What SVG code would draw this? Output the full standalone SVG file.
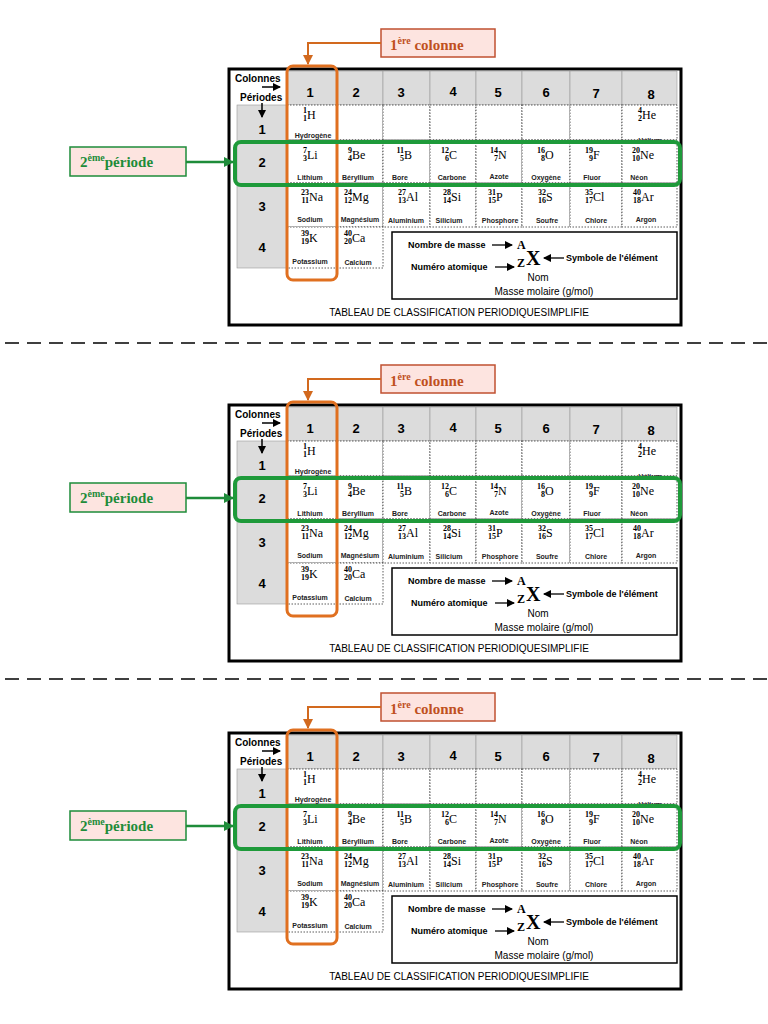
<svg xmlns="http://www.w3.org/2000/svg" xmlns:xlink="http://www.w3.org/1999/xlink" width="768" height="1024" viewBox="0 0 768 1024">
<style>
.g{fill:#dcdcdc;stroke:#999;stroke-width:0.6}
.c{fill:#fff;stroke:#333;stroke-width:0.8;stroke-dasharray:1.5 1.5}
.s{font-family:"Liberation Serif",serif;font-size:12px;fill:#000}
.n{font-family:"Liberation Serif",serif;font-size:8px;font-weight:bold;fill:#000;text-anchor:end}
.nm{font-family:"Liberation Sans",sans-serif;font-size:7px;font-weight:bold;fill:#222;text-anchor:middle}
.h{font-family:"Liberation Sans",sans-serif;font-size:13px;font-weight:bold;text-anchor:middle}
.lb{font-family:"Liberation Sans",sans-serif;font-size:9px;font-weight:bold}
.lab{font-family:"Liberation Serif",serif;font-size:15px;font-weight:bold}
</style>
<defs>
<marker id="ab" markerWidth="8" markerHeight="8" refX="7" refY="4" orient="auto" markerUnits="userSpaceOnUse"><path d="M0,0 L8,4 L0,8z" fill="#000"/></marker>
<marker id="ao" markerWidth="10" markerHeight="10" refX="9" refY="5" orient="auto" markerUnits="userSpaceOnUse"><path d="M0,0 L10,5 L0,10z" fill="#d2691e"/></marker>
<marker id="ag" markerWidth="10" markerHeight="10" refX="9" refY="5" orient="auto" markerUnits="userSpaceOnUse"><path d="M0,0 L10,5 L0,10z" fill="#1e8c3a"/></marker>
<symbol id="table" viewBox="0 0 768 340" width="768" height="340" overflow="visible">
<rect x="229" y="69" width="452" height="256" fill="#fff" stroke="#000" stroke-width="3"/>
<g>
<rect class="g" x="287" y="71" width="50" height="34"/><rect class="g" x="337" y="71" width="46" height="34"/><rect class="g" x="383" y="71" width="47" height="34"/><rect class="g" x="430" y="71" width="46" height="34"/><rect class="g" x="476" y="71" width="46" height="34"/><rect class="g" x="522" y="71" width="48" height="34"/><rect class="g" x="570" y="71" width="52" height="34"/><rect class="g" x="622" y="71" width="55" height="34"/>
<rect class="g" x="237" y="105" width="50" height="163"/>
</g>
<g>
<rect class="c" x="287" y="105" width="50" height="35"/><rect class="c" x="337" y="105" width="46" height="35"/><rect class="c" x="383" y="105" width="47" height="35"/><rect class="c" x="430" y="105" width="46" height="35"/><rect class="c" x="476" y="105" width="46" height="35"/><rect class="c" x="522" y="105" width="48" height="35"/><rect class="c" x="570" y="105" width="52" height="35"/><rect class="c" x="622" y="105" width="55" height="35"/>
<rect class="c" x="287" y="140" width="50" height="43"/><rect class="c" x="337" y="140" width="46" height="43"/><rect class="c" x="383" y="140" width="47" height="43"/><rect class="c" x="430" y="140" width="46" height="43"/><rect class="c" x="476" y="140" width="46" height="43"/><rect class="c" x="522" y="140" width="48" height="43"/><rect class="c" x="570" y="140" width="52" height="43"/><rect class="c" x="622" y="140" width="55" height="43"/>
<rect class="c" x="287" y="183" width="50" height="44"/><rect class="c" x="337" y="183" width="46" height="44"/><rect class="c" x="383" y="183" width="47" height="44"/><rect class="c" x="430" y="183" width="46" height="44"/><rect class="c" x="476" y="183" width="46" height="44"/><rect class="c" x="522" y="183" width="48" height="44"/><rect class="c" x="570" y="183" width="52" height="44"/><rect class="c" x="622" y="183" width="55" height="44"/>
<rect class="c" x="287" y="227" width="50" height="41"/><rect class="c" x="337" y="227" width="46" height="41"/>
</g>
<text x="235" y="82" font-family="Liberation Sans,sans-serif" font-size="10" font-weight="bold">Colonnes</text>
<line x1="262" y1="87" x2="280" y2="87" stroke="#000" stroke-width="1.5" marker-end="url(#ab)"/>
<text x="240" y="101" font-family="Liberation Sans,sans-serif" font-size="10" font-weight="bold">Périodes</text>
<line x1="262" y1="103" x2="262" y2="117" stroke="#000" stroke-width="1.5" marker-end="url(#ab)"/>
<g class="h"><text x="310" y="97">1</text><text x="356" y="97">2</text><text x="401" y="97">3</text><text x="453" y="96">4</text><text x="498" y="97">5</text><text x="546" y="97">6</text><text x="596" y="98">7</text><text x="651" y="99">8</text>
<text x="262" y="134">1</text><text x="262" y="167">2</text><text x="262" y="211">3</text><text x="262" y="252">4</text></g>
<g>
<text class="n" x="307" y="113">1</text><text class="n" x="307" y="121">1</text><text class="s" x="307" y="119">H</text><text class="nm" x="313" y="138">Hydrogène</text>
<text class="n" x="642" y="113">4</text><text class="n" x="642" y="121">2</text><text class="s" x="642" y="119">He</text><text class="nm" x="650" y="143">Hélium</text>
<text class="n" x="307" y="153">7</text><text class="n" x="307" y="161">3</text><text class="s" x="307" y="159">Li</text><text class="nm" x="310" y="180">Lithium</text>
<text class="n" x="352" y="153">9</text><text class="n" x="352" y="161">4</text><text class="s" x="352" y="159">Be</text><text class="nm" x="358" y="180">Béryllium</text>
<text class="n" x="404" y="153">11</text><text class="n" x="404" y="161">5</text><text class="s" x="404" y="159">B</text><text class="nm" x="400" y="180">Bore</text>
<text class="n" x="449" y="153">12</text><text class="n" x="449" y="161">6</text><text class="s" x="449" y="159">C</text><text class="nm" x="452" y="180">Carbone</text>
<text class="n" x="498" y="153">14</text><text class="n" x="498" y="161">7</text><text class="s" x="498" y="159">N</text><text class="nm" x="499" y="179">Azote</text>
<text class="n" x="545" y="153">16</text><text class="n" x="545" y="161">8</text><text class="s" x="545" y="159">O</text><text class="nm" x="546" y="180">Oxygène</text>
<text class="n" x="593" y="153">19</text><text class="n" x="593" y="161">9</text><text class="s" x="593" y="159">F</text><text class="nm" x="592" y="180">Fluor</text>
<text class="n" x="640" y="153">20</text><text class="n" x="640" y="161">10</text><text class="s" x="640" y="159">Ne</text><text class="nm" x="639" y="180">Néon</text>
<text class="n" x="309" y="195">23</text><text class="n" x="309" y="203">11</text><text class="s" x="309" y="201">Na</text><text class="nm" x="310" y="222">Sodium</text>
<text class="n" x="352" y="195">24</text><text class="n" x="352" y="203">12</text><text class="s" x="352" y="201">Mg</text><text class="nm" x="360" y="222">Magnésium</text>
<text class="n" x="406" y="195">27</text><text class="n" x="406" y="203">13</text><text class="s" x="406" y="201">Al</text><text class="nm" x="406" y="223">Aluminium</text>
<text class="n" x="451" y="195">28</text><text class="n" x="451" y="203">14</text><text class="s" x="451" y="201">Si</text><text class="nm" x="449" y="223">Silicium</text>
<text class="n" x="496" y="195">31</text><text class="n" x="496" y="203">15</text><text class="s" x="496" y="201">P</text><text class="nm" x="500" y="223">Phosphore</text>
<text class="n" x="546" y="195">32</text><text class="n" x="546" y="203">16</text><text class="s" x="546" y="201">S</text><text class="nm" x="547" y="223">Soufre</text>
<text class="n" x="593" y="195">35</text><text class="n" x="593" y="203">17</text><text class="s" x="593" y="201">Cl</text><text class="nm" x="596" y="223">Chlore</text>
<text class="n" x="641" y="195">40</text><text class="n" x="641" y="203">18</text><text class="s" x="641" y="201">Ar</text><text class="nm" x="646" y="222">Argon</text>
<text class="n" x="309" y="236">39</text><text class="n" x="309" y="244">19</text><text class="s" x="309" y="242">K</text><text class="nm" x="310" y="264">Potassium</text>
<text class="n" x="352" y="236">40</text><text class="n" x="352" y="244">20</text><text class="s" x="352" y="242">Ca</text><text class="nm" x="358" y="265">Calcium</text>
</g>
<rect x="392" y="232" width="285" height="67" fill="#fff" stroke="#000" stroke-width="1.5"/>
<text class="lb" x="408" y="248" font-size="8">Nombre de masse</text>
<line x1="492" y1="245" x2="512" y2="245" stroke="#000" stroke-width="1.3" marker-end="url(#ab)"/>
<text class="lb" x="411" y="270" font-size="8">Numéro atomique</text>
<line x1="495" y1="267" x2="514" y2="267" stroke="#000" stroke-width="1.3" marker-end="url(#ab)"/>
<text x="517" y="249" font-family="Liberation Serif,serif" font-size="12" font-weight="bold">A</text>
<text x="517" y="267" font-family="Liberation Serif,serif" font-size="12" font-weight="bold">Z</text>
<text x="526" y="265" font-family="Liberation Serif,serif" font-size="20" font-weight="bold">X</text>
<line x1="564" y1="258" x2="544" y2="258" stroke="#000" stroke-width="1.3" marker-end="url(#ab)"/>
<text class="lb" x="566" y="261" font-size="7">Symbole de l'élément</text>
<text x="538" y="281" font-family="Liberation Sans,sans-serif" font-size="10" text-anchor="middle">Nom</text>
<text x="544" y="295" font-family="Liberation Sans,sans-serif" font-size="10" text-anchor="middle">Masse molaire (g/mol)</text>
<text x="459" y="316" font-family="Liberation Sans,sans-serif" font-size="10" text-anchor="middle">TABLEAU DE CLASSIFICATION PERIODIQUESIMPLIFIE</text>
<rect x="287" y="66" width="50" height="214" rx="6" fill="none" stroke="#e07020" stroke-width="3"/>
<rect x="235" y="142" width="445" height="43" rx="6" fill="none" stroke="#1e9a3a" stroke-width="4"/>
<rect x="381" y="29" width="114" height="28" fill="#fde4e0" stroke="#c05030" stroke-width="1.5"/>
<text class="lab" x="390" y="50" fill="#c0501e">1<tspan font-size="10" dy="-6">ère</tspan><tspan dy="6"> colonne</tspan></text>
<polyline points="381,43 308,43 308,64" fill="none" stroke="#d2691e" stroke-width="2" marker-end="url(#ao)"/>
<rect x="70" y="147" width="116" height="29" fill="#fde4e0" stroke="#1e8c3a" stroke-width="1.5"/>
<text class="lab" x="80" y="167" fill="#1e8c3a">2<tspan font-size="10" dy="-6">ème</tspan><tspan dy="6">période</tspan></text>
<line x1="186" y1="162" x2="233" y2="162" stroke="#1e8c3a" stroke-width="2.5" marker-end="url(#ag)"/>
</symbol>
</defs>
<rect width="768" height="1024" fill="#fff"/>
<g id="copy1"><use xlink:href="#table" x="0" y="0"/></g>
<g id="copy2"><use xlink:href="#table" x="0" y="336"/></g>
<g id="copy3"><use xlink:href="#table" x="0" y="664"/></g>
<g id="connectors">
<line x1="5" y1="343" x2="768" y2="343" stroke="#000" stroke-width="1.5" stroke-dasharray="14 8"/>
<line x1="5" y1="679" x2="768" y2="679" stroke="#000" stroke-width="1.5" stroke-dasharray="14 8"/>
</g>
</svg>
